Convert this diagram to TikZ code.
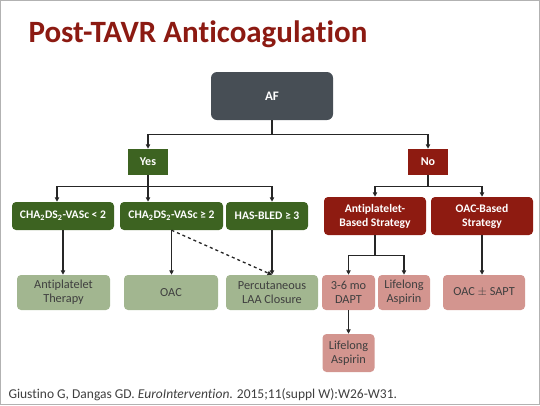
\documentclass[tikz,border=0pt]{standalone}
\usepackage{fontspec}
\setmainfont[Ligatures={NoCommon}]{Carlito}
\usetikzlibrary{arrows.meta,positioning}
\definecolor{slate}{HTML}{474E55}
\definecolor{leafgreen}{HTML}{3D6321}
\definecolor{brickred}{HTML}{8E1B11}
\definecolor{palegreen}{HTML}{A2B690}
\definecolor{palered}{HTML}{D3958F}
\definecolor{titlered}{HTML}{8C1A12}
\definecolor{inkgray}{HTML}{3F3F3F}
\tikzset{
    dark box/.style={
        rounded corners=4pt,inner sep=0pt,
        text=white,align=center,
        font=\bfseries\fontsize{11.6}{14}\selectfont
    },
    pale box/.style={
        rounded corners=4pt,inner sep=0pt,
        text=inkgray,align=center,
        minimum height=35pt,
        font=\fontsize{12.3}{14.3}\selectfont
    },
    answer box/.style={
        inner sep=0pt,text=white,
        minimum width=40pt,minimum height=26pt,
        font=\bfseries\fontsize{12}{13}\selectfont
    },
    conn/.style={draw=black!85,line width=1.3pt},
    >={Triangle[length=4.5pt,width=4.2pt]}
}

\begin{document}
\begin{tikzpicture}[x=1pt,y=-1pt]
\useasboundingbox (0,0) rectangle (540,405);
\draw[gray!60,line width=1pt] (0.5,0.5) rectangle (539.5,404.5);
\node[anchor=base west,text=titlered,font=\bfseries\fontsize{31}{34}\selectfont] (title) at (25,42) {Post-TAVR Anticoagulation};

\node[dark box,fill=slate,rounded corners=6pt,minimum width=122pt,minimum height=48pt,font=\bfseries\fontsize{13}{15}\selectfont] (af) at (272,96) {AF};
\node[answer box,fill=leafgreen] (yes) at (148,162) {Yes};
\node[answer box,fill=brickred] (no) at (428,162) {No};

\foreach \name/\x/\w/\txt in {cha_low/63/102/{CHA\textsubscript{2}DS\textsubscript{2}-VASc < 2},cha_high/171.5/103/{CHA\textsubscript{2}DS\textsubscript{2}-VASc ≥ 2},hasbled/267/82/{HAS-BLED ≥ 3}}
    \node[dark box,fill=leafgreen,minimum width=\w pt,minimum height=28pt] (\name) at (\x,216) {\txt};
\foreach \name/\x/\txt in {ap_strategy/375/{Antiplatelet-\\Based Strategy},oac_strategy/482/{OAC-Based\\Strategy}}
    \node[dark box,fill=brickred,minimum width=102pt,minimum height=38pt] (\name) at (\x,216) {\txt};

\foreach \name/\x/\w/\txt in {therapy/63.5/93/{Antiplatelet\\Therapy},oac/171/94/{OAC},perc/272/92/{Percutaneous\\LAA Closure}}
    \node[pale box,fill=palegreen,minimum width=\w pt] (\name) at (\x,292.5) {\txt};
\foreach \name/\x/\w/\txt in {dapt/348.5/53/{3-6 mo\\DAPT},aspirin/404/52/{Lifelong\\Aspirin},sapt/484/82/{OAC $\pm$ SAPT}}
    \node[pale box,fill=palered,minimum width=\w pt] (\name) at (\x,292.5) {\txt};
\node[pale box,fill=palered,minimum width=52pt,minimum height=38pt] (aspirin_late) at (348.5,353) {Lifelong\\Aspirin};

\draw[conn,->] (af.south) -- ++(0,14) -| (yes.north);
\draw[conn,->] (af.south) -- ++(0,14) -| (no.north);
\draw[conn,->] (yes.south) -- ++(0,11) -| ([xshift=-6pt]cha_low.north);
\draw[conn,->] (yes.south) -- (yes.south |- cha_high.north);
\draw[conn,->] (yes.south) -- ++(0,11) -| (hasbled.north -| perc.north);
\draw[conn,->] (no.south) -- ++(0,11) -| (ap_strategy.north);
\draw[conn,->] (no.south) -- ++(0,11) -| (oac_strategy.north);

\draw[conn,->] (cha_low.south) -- (cha_low.south |- therapy.north);
\draw[conn,->] (cha_high.south) -- (cha_high.south |- oac.north);
\draw[conn,->] (hasbled.south -| perc.north) -- (perc.north);
\draw[conn,dashed,->] (cha_high.south) -- (perc.north);
\draw[conn,->] (ap_strategy.south) -- ++(0,20) -| (dapt.north);
\draw[conn,->] (ap_strategy.south) -- ++(0,20) -| (aspirin.north);
\draw[conn,->] (oac_strategy.south) -- (oac_strategy.south |- sapt.north);
\draw[conn,->] (dapt.south) -- (aspirin_late.north);

\node[anchor=west,text=inkgray,font=\fontsize{13.5}{15}\selectfont] (cite) at (5,395) {Giustino G, Dangas GD. \textit{EuroIntervention}. 2015;11(suppl W):W26-W31.};
\end{tikzpicture}
\end{document}
